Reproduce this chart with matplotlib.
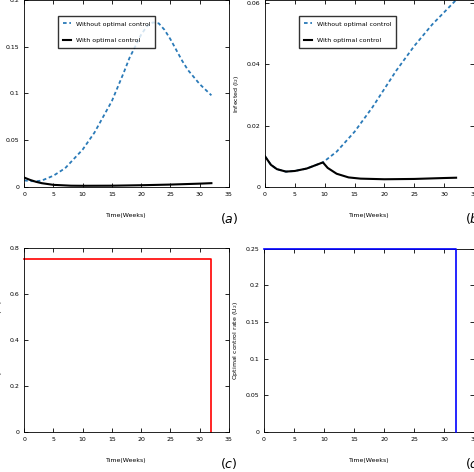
import matplotlib
matplotlib.use("Agg")
import matplotlib.pyplot as plt
import numpy as np

t_a = [0, 1, 2, 3, 5, 7, 10, 12, 15, 17, 18, 20, 21, 22, 23, 24, 25, 27, 28, 30, 32]
a_without = [0.007, 0.0062, 0.006, 0.0068, 0.012, 0.02, 0.04, 0.058, 0.092, 0.122, 0.138, 0.163, 0.172, 0.176, 0.175, 0.168, 0.158, 0.135, 0.125, 0.11, 0.098]
t_a2 = [0, 1, 2, 3, 5, 8, 10, 15, 20, 25, 30, 32]
a_with = [0.01, 0.0075, 0.0055, 0.004, 0.0022, 0.0013, 0.0012, 0.0013, 0.0018, 0.0025, 0.0035, 0.004]

t_b1 = [0, 1, 2, 3.5, 5, 7, 9.7, 12, 15, 18, 20, 22, 25, 28, 30, 32]
b_without = [0.01, 0.0072, 0.0058, 0.005, 0.0052, 0.006, 0.008, 0.0115, 0.018, 0.026, 0.032, 0.038, 0.046, 0.053, 0.057, 0.061]
t_b2 = [0, 1, 2, 3.5, 5, 7, 9.7, 10.5, 12, 14, 16, 20, 25, 30, 32]
b_with = [0.01, 0.0072, 0.0058, 0.005, 0.0052, 0.006, 0.008, 0.0062, 0.0043, 0.0031, 0.0027, 0.0025, 0.0026, 0.0029, 0.003]

t_u = [0, 32, 32]
u1 = [0.75, 0.75, 0.0]
u2 = [0.25, 0.25, 0.0]

fig = plt.figure(figsize=(4.74, 4.72), dpi=100)
fs = 4.5
axes = [
    fig.add_axes([0.051, 0.604, 0.432, 0.396]),
    fig.add_axes([0.559, 0.604, 0.441, 0.396]),
    fig.add_axes([0.051, 0.085, 0.432, 0.39]),
    fig.add_axes([0.557, 0.085, 0.443, 0.388]),
]
ax = axes[0]
ax.plot(t_a, a_without, ls=(0, (2, 1.5)), color="#2a7ab8", lw=1.3, label="Without optimal control")
ax.plot(t_a2, a_with, color="black", lw=1.5, label="With optimal control")
ax.set_ylim(0, 0.2)
ax.set_yticks([0, 0.05, 0.1, 0.15, 0.2], ["0", "0.05", "0.1", "0.15", "0.2"])
ax.set_ylabel("Infected (I$_1$)", fontsize=fs)
ax.legend(loc="upper left", bbox_to_anchor=(0.15, 0.93), fontsize=fs, fancybox=False, edgecolor="black", handlelength=1.2, labelspacing=1.8, borderpad=0.8)

ax = axes[1]
ax.plot(t_b1, b_without, ls=(0, (2, 1.5)), color="#2a7ab8", lw=1.3, label="Without optimal control")
ax.plot(t_b2, b_with, color="black", lw=1.5, label="With optimal control")
ax.set_ylim(0, 0.061)
ax.set_yticks([0, 0.02, 0.04, 0.06], ["0", "0.02", "0.04", "0.06"])
ax.set_ylabel("Infected (I$_2$)", fontsize=fs)
ax.legend(loc="upper left", bbox_to_anchor=(0.15, 0.93), fontsize=fs, fancybox=False, edgecolor="black", handlelength=1.2, labelspacing=1.8, borderpad=0.8)

ax = axes[2]
ax.plot(t_u, u1, color="red", lw=1.2, clip_on=False)
ax.set_ylim(0, 0.8)
ax.set_yticks([0, 0.2, 0.4, 0.6, 0.8], ["0", "0.2", "0.4", "0.6", "0.8"])
ax.set_ylabel("Optimal control rate (U$_1$)", fontsize=fs)

ax = axes[3]
ax.plot(t_u, u2, color="blue", lw=1.2, clip_on=False, zorder=5)
ax.set_ylim(0, 0.25)
ax.set_yticks([0, 0.05, 0.1, 0.15, 0.2, 0.25], ["0", "0.05", "0.1", "0.15", "0.2", "0.25"])
ax.set_ylabel("Optimal control rate (U$_2$)", fontsize=fs)

for ax, lab in zip(axes, ["(a)", "(b)", "(c)", "(d)"]):
    ax.set_xlim(0, 35)
    ax.set_xticks([0, 5, 10, 15, 20, 25, 30, 35])
    ax.tick_params(direction="in", top=True, right=True, labelsize=fs, length=3, width=0.6)
    ax.set_xlabel("Time(Weeks)", fontsize=fs, labelpad=12)
    for s in ax.spines.values():
        s.set_linewidth(0.6)
    ax.text(1.0, -0.17, "$(" + lab[1] + ")$", transform=ax.transAxes, fontsize=9, ha="center", va="center")

fig.savefig("out.png", dpi=100)
